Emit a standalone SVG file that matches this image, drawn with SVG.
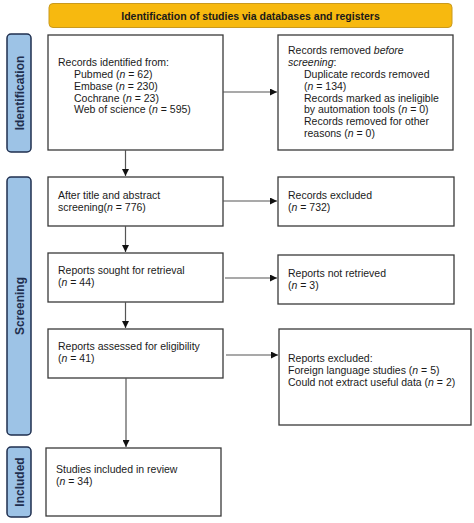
<svg xmlns="http://www.w3.org/2000/svg" width="474" height="523" viewBox="0 0 474 523">
<style>
text{font-family:"Liberation Sans",Arial,sans-serif;font-size:10.5px;fill:#1a1a1a}
.box{fill:#fff;stroke:#3a3a3a;stroke-width:1.3}
.side{fill:#9DC3E6;stroke:#1F2F4F;stroke-width:1.5}
.sidet{font-weight:bold;font-size:12px;fill:#1F2F4F;text-anchor:middle}
.ban{fill:#F7B90F;stroke:#C99A1E;stroke-width:1}
.bant{font-weight:bold;font-size:10.5px;text-anchor:middle}
.con{stroke:#555;stroke-width:1.2;fill:none;marker-end:url(#ah)}
</style>
<defs>
<marker id="ah" viewBox="0 0 10 10" refX="10" refY="5" markerWidth="7" markerHeight="7" markerUnits="userSpaceOnUse" orient="auto">
<path d="M0,0 L10,5 L0,10 z" fill="#111"/>
</marker>
</defs>
<rect width="474" height="523" fill="#fff"/>
<g id="banner"><rect class="ban" x="49" y="3.5" width="403" height="24" rx="4"/><text class="bant" x="250.5" y="19.5">Identification of studies via databases and registers</text></g>
<g id="side-identification"><rect class="side" x="7" y="34" width="24" height="118" rx="4"/><text class="sidet" transform="translate(23.5,93) rotate(-90)">Identification</text></g>
<g id="side-screening"><rect class="side" x="7" y="177" width="24" height="258" rx="4"/><text class="sidet" transform="translate(23.5,306) rotate(-90)">Screening</text></g>
<g id="side-included"><rect class="side" x="7" y="447" width="24" height="70" rx="4"/><text class="sidet" transform="translate(23.5,482) rotate(-90)">Included</text></g>
<g id="records-identified"><rect class="box" x="48" y="35" width="175" height="115"/>
<text x="58" y="66">Records identified from:</text>
<text x="74" y="77.5">Pubmed (<tspan font-style="italic">n</tspan> = 62)</text>
<text x="74" y="89.5">Embase (<tspan font-style="italic">n</tspan> = 230)</text>
<text x="74" y="101.5">Cochrane (<tspan font-style="italic">n</tspan> = 23)</text>
<text x="74" y="113">Web of science (<tspan font-style="italic">n</tspan> = 595)</text></g>
<g id="records-removed"><rect class="box" x="278" y="35" width="175" height="115"/>
<text x="288" y="54">Records removed <tspan font-style="italic">before</tspan></text>
<text x="288" y="66"><tspan font-style="italic">screening</tspan>:</text>
<text x="304" y="78">Duplicate records removed</text>
<text x="304" y="89.5">(<tspan font-style="italic">n</tspan> = 134)</text>
<text x="304" y="101.5">Records marked as ineligible</text>
<text x="304" y="113">by automation tools (<tspan font-style="italic">n</tspan> = 0)</text>
<text x="304" y="125">Records removed for other</text>
<text x="304" y="137">reasons (<tspan font-style="italic">n</tspan> = 0)</text></g>
<g id="after-screening"><rect class="box" x="48" y="177" width="175" height="49"/>
<text x="58" y="199">After title and abstract</text>
<text x="58" y="211">screening(<tspan font-style="italic">n</tspan> = 776)</text></g>
<g id="records-excluded"><rect class="box" x="278" y="177" width="176" height="49"/>
<text x="288" y="199">Records excluded</text>
<text x="288" y="211">(<tspan font-style="italic">n</tspan> = 732)</text></g>
<g id="reports-sought"><rect class="box" x="48" y="253" width="175" height="49"/>
<text x="58" y="274">Reports sought for retrieval</text>
<text x="58" y="286">(<tspan font-style="italic">n</tspan> = 44)</text></g>
<g id="reports-not-retrieved"><rect class="box" x="278" y="255" width="176" height="49"/>
<text x="288" y="277">Reports not retrieved</text>
<text x="288" y="289">(<tspan font-style="italic">n</tspan> = 3)</text></g>
<g id="reports-assessed"><rect class="box" x="48" y="329" width="175" height="49"/>
<text x="58" y="350">Reports assessed for eligibility</text>
<text x="58" y="362">(<tspan font-style="italic">n</tspan> = 41)</text></g>
<g id="reports-excluded"><rect class="box" x="279" y="329" width="192" height="96"/>
<text x="288" y="362">Reports excluded:</text>
<text x="288" y="374">Foreign language studies (<tspan font-style="italic">n</tspan> = 5)</text>
<text x="288" y="386">Could not extract useful data (<tspan font-style="italic">n</tspan> = 2)</text></g>
<g id="studies-included"><rect class="box" x="46" y="448" width="175" height="68"/>
<text x="56" y="473">Studies included in review</text>
<text x="56" y="485">(<tspan font-style="italic">n</tspan> =  34)</text></g>
<g id="connectors">
<line class="con" x1="223" y1="92" x2="277" y2="92"/>
<line class="con" x1="125.5" y1="150" x2="125.5" y2="176"/>
<line class="con" x1="223" y1="201" x2="277" y2="201"/>
<line class="con" x1="125.5" y1="226" x2="125.5" y2="252"/>
<line class="con" x1="225" y1="278" x2="277" y2="278"/>
<line class="con" x1="125.5" y1="302" x2="125.5" y2="328"/>
<line class="con" x1="226" y1="355" x2="278" y2="355"/>
<line class="con" x1="126" y1="378" x2="126" y2="447"/>
</g>
</svg>
